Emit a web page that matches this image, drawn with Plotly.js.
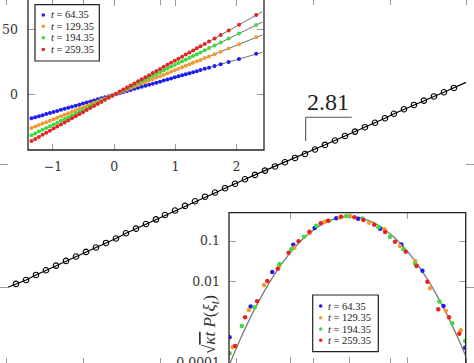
<!DOCTYPE html>
<html>
<head>
<meta charset="utf-8">
<script src="https://cdn.plot.ly/plotly-3.0.1.min.js"></script>
<style>html,body{margin:0;padding:0;background:#fff;}#chart{width:474px;height:363px;}</style>
</head>
<body>
<div id="chart"></div>
<script>
// ---------- main curve (arbitrary scaled units, tick labels hidden) ----------
const mainX = [0.121,0.252,0.382,0.512,0.643,0.773,0.904,1.034,1.164,1.295,1.425,1.555,1.686,1.816,1.946,2.064,2.195,2.325,2.455,2.586,2.716,2.847,2.977,3.107,3.237,3.368,3.498,3.628,3.759,3.889,4.020,4.150,4.280,4.411,4.541,4.671,4.802,4.932,5.049,5.180,5.310,5.440,5.571,5.701,5.831];
const mainY = [0.033,0.065,0.106,0.144,0.182,0.220,0.256,0.293,0.329,0.366,0.402,0.445,0.482,0.520,0.558,0.593,0.630,0.667,0.705,0.742,0.776,0.811,0.847,0.884,0.919,0.954,0.988,1.022,1.057,1.089,1.126,1.163,1.199,1.236,1.271,1.307,1.343,1.380,1.416,1.453,1.488,1.523,1.557,1.591,1.626];
const lineStart = [0.017, 0.006];
const lineEnd = [5.988, 1.671];
const slopeLabel = "2.81";

// ---------- inset 1 ----------
const legendLabels = ["64.35", "129.35", "194.35", "259.35"];
const in1X = [-1.35,-1.29,-1.23,-1.17,-1.11,-1.05,-0.99,-0.93,-0.87,-0.81,-0.75,-0.69,-0.63,-0.57,-0.51,-0.45,-0.39,-0.33,-0.27,-0.21,-0.15,-0.09,-0.03,0.03,0.09,0.15,0.21,0.27,0.33,0.39,0.45,0.51,0.57,0.63,0.69,0.75,0.81,0.87,0.93,0.99,1.05,1.11,1.17,1.23,1.29,1.35,1.41,1.48,1.55,1.64,1.74,1.87,2.04,2.32];
const in1Blue = [-18.2,-17.4,-16.6,-15.8,-15.0,-14.2,-13.4,-12.6,-11.7,-10.9,-10.1,-9.3,-8.5,-7.7,-6.9,-6.1,-5.3,-4.5,-3.6,-2.8,-2.0,-1.2,-0.4,0.4,1.2,2.0,2.8,3.6,4.5,5.3,6.1,6.9,7.7,8.5,9.3,10.1,10.9,11.7,12.6,13.4,14.2,15.0,15.8,16.6,17.4,18.2,19.0,20.0,20.9,22.1,23.5,25.2,27.5,31.6];
const in1Orange = [-25.8,-24.6,-23.5,-22.3,-21.2,-20.1,-18.9,-17.8,-16.6,-15.5,-14.3,-13.2,-12.0,-10.9,-9.7,-8.6,-7.4,-6.3,-5.2,-4.0,-2.9,-1.7,-0.6,0.6,1.7,2.9,4.0,5.2,6.3,7.4,8.6,9.7,10.9,12.0,13.2,14.3,15.5,16.6,17.8,18.9,20.1,21.2,22.3,23.5,24.6,25.8,26.9,28.3,29.6,31.3,33.2,35.7,39.0,44.3];
const in1Green = [-31.3,-29.9,-28.5,-27.1,-25.8,-24.4,-23.0,-21.6,-20.2,-18.8,-17.4,-16.0,-14.6,-13.2,-11.8,-10.4,-9.0,-7.7,-6.3,-4.9,-3.5,-2.1,-0.7,0.7,2.1,3.5,4.9,6.3,7.7,9.0,10.4,11.8,13.2,14.6,16.0,17.4,18.8,20.2,21.6,23.0,24.4,25.8,27.1,28.5,29.9,31.3,32.7,34.3,36.0,38.0,40.4,43.4,47.3,53.8];
const in1Red = [-35.8,-34.2,-32.6,-31.0,-29.4,-27.8,-26.2,-24.6,-23.1,-21.5,-19.9,-18.3,-16.7,-15.1,-13.5,-11.9,-10.3,-8.7,-7.2,-5.6,-4.0,-2.4,-0.8,0.8,2.4,4.0,5.6,7.2,8.7,10.3,11.9,13.5,15.1,16.7,18.3,19.9,21.5,23.1,24.6,26.2,27.8,29.4,31.0,32.6,34.2,35.8,37.4,39.2,41.1,43.5,46.1,49.6,54.1,61.5];
const fitX = [-1.38, 2.42];
const fitBlue = [-18.6, 32.7];
const fitOrange = [-26.4, 46.2];
const fitGreen = [-32.0, 56.1];
const fitRed = [-36.6, 64.1];
const in1XTicks = [-1, 0, 1, 2];
const in1YTicks = [0, 50];

// ---------- inset 2 ----------
const gaussX = [-4.25,-4.0,-3.75,-3.5,-3.25,-3.0,-2.75,-2.5,-2.25,-2.0,-1.75,-1.5,-1.25,-1.0,-0.75,-0.5,-0.25,0,0.25,0.5,0.75,1.0,1.25,1.5,1.75,2.0,2.25,2.5,2.75,3.0,3.25,3.5,3.75,4.0,4.25];
const gaussY = [4.77e-5,1.34e-4,3.53e-4,8.73e-4,2.03e-3,4.43e-3,9.09e-3,0.01753,0.03174,0.05399,0.08628,0.12952,0.18265,0.24197,0.30114,0.35207,0.38667,0.39894,0.38667,0.35207,0.30114,0.24197,0.18265,0.12952,0.08628,0.05399,0.03174,0.01753,9.09e-3,4.43e-3,2.03e-3,8.73e-4,3.53e-4,1.34e-4,4.77e-5];
const blueX = [-4.10,-3.38,-2.64,-1.92,-1.19,-0.45,0.30,1.05,1.78,2.50,3.22,3.96];
const blueY = [4.2e-4,2.4e-3,0.0172,0.081,0.210,0.363,0.356,0.201,0.082,0.0185,2.5e-3,2.3e-4];
const orangeX = [-3.99,-3.44,-2.92,-2.40,-1.88,-1.36,-0.85,-0.33,0.02,0.67,1.20,1.73,2.25,2.76,3.30,3.81];
const orangeY = [2.4e-4,1.98e-3,8.2e-3,0.024,0.068,0.158,0.300,0.378,0.414,0.283,0.194,0.0753,0.032,6.8e-3,1.9e-3,6.3e-4];
const greenX = [-4.10,-3.68,-3.24,-2.39,-1.99,-1.55,-1.13,-0.70,-0.11,0.45,0.99,1.39,1.85,2.25,3.08,3.52,3.96];
const greenY = [1.7e-4,8.0e-4,2.3e-3,0.027,0.0624,0.128,0.239,0.312,0.414,0.361,0.218,0.128,0.0624,0.027,3.2e-3,9.3e-4,3.4e-4];
const redX = [-3.91,-3.57,-3.16,-2.81,-2.45,-2.08,-1.74,-1.37,-0.98,-0.73,-0.28,0.17,0.48,0.85,1.22,1.56,1.93,2.30,2.67,3.04,3.41,3.76];
const redY = [2.55e-4,1.31e-3,3.24e-3,0.0103,0.0207,0.0514,0.0984,0.170,0.274,0.317,0.398,0.385,0.330,0.252,0.167,0.096,0.0544,0.0241,9.9e-3,2.06e-3,1.31e-3,5.1e-4];
const in2YTicks = [1e-4, 1e-2, 1e-1];
const in2YTickText = ["0.0001", "0.01", "0.1"];
const in2XTicks = [-2, 0, 2];

// ---------- styling ----------
const W = 474, H = 363;
const colors = ["#1e1ef0", "#f39a30", "#3ddc3d", "#e62424"];
const tickCol = "#9a9a9a";
const serif = "Liberation Serif";
const tickFont = {family: "DejaVu Serif", size: 12.5, color: "#333"};
const PX = p => p / W;
const PY = p => 1 - p / H;

const traces = [];
traces.push({x: [lineStart[0]].concat(mainX, [lineEnd[0]]), y: [lineStart[1]].concat(mainY, [lineEnd[1]]),
  mode: "lines", line: {color: "#000", width: 1.2}, xaxis: "x", yaxis: "y", hoverinfo: "skip"});
traces.push({x: mainX, y: mainY, mode: "markers", xaxis: "x", yaxis: "y",
  marker: {symbol: "circle-open", size: 5.5, color: "#000", line: {width: 1.1, color: "#000"}}});

[fitBlue, fitOrange, fitGreen, fitRed].forEach(f => traces.push({x: fitX, y: f, mode: "lines",
  line: {color: "#6e6e6e", width: 1}, xaxis: "x2", yaxis: "y2"}));
[in1Blue, in1Orange, in1Green, in1Red].forEach((s, i) => traces.push({x: in1X, y: s, mode: "markers",
  marker: {size: 4, color: colors[i]}, xaxis: "x2", yaxis: "y2"}));

traces.push({x: gaussX, y: gaussY, mode: "lines", line: {color: "#7a7a7a", width: 1.3, shape: "spline"},
  xaxis: "x3", yaxis: "y3"});
[[blueX, blueY], [orangeX, orangeY], [greenX, greenY], [redX, redY]].forEach((s, i) => traces.push({
  x: s[0], y: s[1], mode: "markers", marker: {size: 4.5, color: colors[i]}, xaxis: "x3", yaxis: "y3"}));

const baseAx = {showgrid: false, zeroline: false, showline: false, ticks: "inside", tickcolor: tickCol,
  tickwidth: 1, mirror: "ticks", tickfont: tickFont, ticklabeloverflow: "allow"};

const shapes = [];
const annotations = [];
// inset frames
shapes.push({type: "rect", xref: "x2 domain", yref: "y2 domain", x0: 0, x1: 1, y0: 0, y1: 1.1,
  line: {color: "#222", width: 1.3}, layer: "above"});
shapes.push({type: "rect", xref: "x3 domain", yref: "y3 domain", x0: 0, x1: 1, y0: -0.2, y1: 1,
  line: {color: "#222", width: 1.3}, layer: "above"});
// slope marker
shapes.push({type: "line", xref: "x", yref: "y", x0: 3.898, x1: 3.898, y0: 1.195, y1: 1.388, line: {color: "#555", width: 1.1}});
shapes.push({type: "line", xref: "x", yref: "y", x0: 3.898, x1: 4.498, y0: 1.388, y1: 1.388, line: {color: "#555", width: 1.1}});
annotations.push({xref: "x", yref: "y", x: 4.193, y: 1.515, xanchor: "center", yanchor: "middle", text: slopeLabel, showarrow: false,
  font: {family: serif, size: 24, color: "#222"}});

function legend(box, dotX, textX, rowsY) {
  shapes.push({type: "rect", xref: "paper", yref: "paper", x0: PX(box[0]), x1: PX(box[2]), y0: PY(box[3]), y1: PY(box[1]),
    fillcolor: "#fff", line: {color: "#222", width: 1.2}, layer: "above"});
  legendLabels.forEach((lab, i) => {
    const r = 1.8, cy = rowsY[i];
    shapes.push({type: "circle", xref: "paper", yref: "paper", x0: PX(dotX - r), x1: PX(dotX + r),
      y0: PY(cy + r), y1: PY(cy - r), fillcolor: colors[i], line: {width: 0}, layer: "above"});
    annotations.push({xref: "paper", yref: "paper", x: PX(textX), y: PY(cy), xanchor: "left", yanchor: "middle",
      text: "<i>t</i> = " + lab, showarrow: false, font: {family: serif, size: 10.5, color: "#222"}});
  });
}
legend([35, 4.7, 99.3, 61], 43.3, 48.5, [15, 26.3, 37.8, 49.5]);
legend([312.7, 295, 378.3, 351.7], 320.7, 326, [306, 317.7, 329, 340.3]);

annotations.push({xref: "paper", yref: "paper", x: PX(211), y: PY(325), xanchor: "center", yanchor: "middle",
  textangle: -90, showarrow: false,
  text: "√<span style='text-decoration:overline'><i>κt</i></span> <i>P</i>(<i>ξ</i><sub><i>t</i></sub>)",
  font: {family: serif, size: 17, color: "#333"}});

const layout = {
  width: W, height: H, margin: {l: 0, r: 0, t: 0, b: 0, pad: 0},
  paper_bgcolor: "#fff", plot_bgcolor: "rgba(0,0,0,0)", showlegend: false,
  xaxis: Object.assign({}, baseAx, {domain: [0, 1], range: [-0.0874, 6.093], tickvals: [0, 1, 2, 3, 4, 5, 6],
    ticklen: 5, showticklabels: false, anchor: "y"}),
  yaxis: Object.assign({}, baseAx, {domain: [0, 1], range: [-0.610, 2.341], tickvals: [0, 1],
    ticklen: 8, showticklabels: false, anchor: "x"}),
  xaxis2: Object.assign({}, baseAx, {domain: [PX(28), PX(264)], range: [-1.408, 2.448], tickvals: in1XTicks,
    ticklen: 6, ticklabelstandoff: 7, anchor: "y2"}),
  yaxis2: Object.assign({}, baseAx, {domain: [PY(150), 1], range: [-42.74, 73.18], tickvals: in1YTicks,
    ticklen: 7, ticklabelstandoff: 9, anchor: "x2"}),
  xaxis3: Object.assign({}, baseAx, {domain: [PX(229), PX(465.7)], range: [-4.12, 3.98], tickvals: in2XTicks,
    ticklen: 6, showticklabels: false, anchor: "y3"}),
  yaxis3: Object.assign({}, baseAx, {domain: [0, PY(212.7)], type: "log", range: [-4.012, -0.301],
    tickvals: in2YTicks, ticktext: in2YTickText, ticklen: 7, ticklabelstandoff: 8, anchor: "x3"}),
  shapes: shapes, annotations: annotations
};
Plotly.newPlot("chart", traces, layout, {displayModeBar: false, staticPlot: true});
</script>
</body>
</html>
